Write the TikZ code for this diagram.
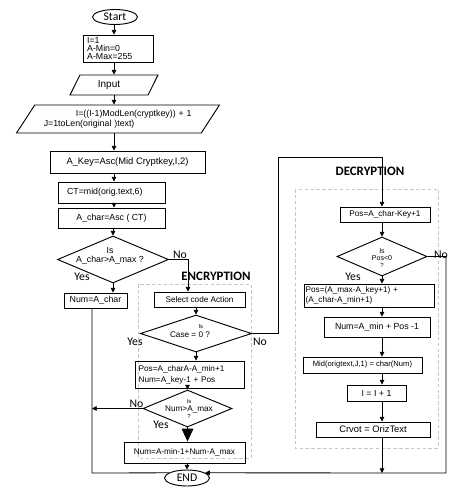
\documentclass[tikz,border=0pt]{standalone}
\usepackage{fontspec}
\setmainfont{Liberation Sans}
\newfontfamily\lblfont{Carlito}
\usetikzlibrary{shapes.geometric}
\usetikzlibrary{arrows.meta}

\begin{document}
\begin{tikzpicture}[x=0.03cm, y=-0.03cm,
    box/.style={draw, line width=0.8pt, inner sep=1pt, font=\fontsize{7.5}{8}\selectfont},
    para/.style={draw, line width=0.8pt, trapezium, trapezium stretches=true, inner sep=1pt, font=\fontsize{7.5}{9}\selectfont},
    choice/.style={draw, line width=0.8pt, diamond, inner sep=0pt},
    ask/.style={inner sep=0pt, align=center, font=\fontsize{7.5}{8}\selectfont},
    term/.style={draw, line width=0.8pt, ellipse, inner sep=0pt, font=\lblfont\fontsize{10}{11}\selectfont},
    lbl/.style={font=\lblfont\fontsize{10}{11}\selectfont},
    head/.style={font=\lblfont\bfseries\fontsize{11}{12}\selectfont},
    region/.style={draw=gray!45, densely dashed, line width=0.6pt},
    flow/.style={-{Triangle[length=4pt,width=4pt]}, line width=0.7pt}]
    \useasboundingbox (0,0) rectangle (474,494);

    \draw[region] (138,284) rectangle (251,458);
    \draw[region] (295,189) rectangle (438,448);

    \node[term, minimum width=1.35cm, minimum height=0.45cm] (start) at (115,17) {Start};
    \node[box, minimum width=2.1cm, minimum height=0.81cm, text width=1.85cm, align=left, inner ysep=0.5pt, font=\fontsize{7.5}{6.6}\selectfont] (init) at (118,48.5) {I=1\\A-Min=0\\A-Max=255};
    \node[para, trapezium left angle=66, trapezium right angle=114, minimum width=2.64cm, minimum height=0.6cm, font=\fontsize{8.5}{9}\selectfont] (input) at (114,85) {Input\hspace*{0.3cm}};
    \node[para, trapezium left angle=52, trapezium right angle=128, minimum width=6.09cm, minimum height=0.84cm, text width=4.45cm, align=left] (loop) at (118,119) {\hspace*{0.96cm}I=((I-1)ModLen(cryptkey)) + 1\\J=1toLen(original )text)};
    \node[box, minimum width=4.65cm, minimum height=0.66cm, font=\fontsize{8}{9}\selectfont] (akey) at (127.5,162) {A\_Key=Asc(Mid Cryptkey,I,2)};
    \node[box, minimum width=3.21cm, minimum height=0.63cm] (ct) at (111.5,192.5) {CT=mid(orig.text,6)\hspace*{0.4cm}};
    \node[box, minimum width=3.21cm, minimum height=0.6cm] (achar) at (111.5,218) {A\_char=Asc ( CT)};
    \node[choice, minimum width=3.33cm, minimum height=1.41cm] (d1) at (113,259.5) {};
    \node[ask] (d1q) at (110,256) {Is\\A\_char>A\_max ?};
    \node[box, minimum width=1.89cm, minimum height=0.45cm] (numchar) at (95.5,300.5) {Num=A\_char};

    \node[head] (enchead) at (216,276) {ENCRYPTION};
    \node[box, minimum width=2.73cm, minimum height=0.45cm, font=\fontsize{7}{8}\selectfont] (select) at (199.5,299.5) {Select code Action};
    \node[choice, minimum width=3.33cm, minimum height=1.11cm] (d2) at (196,333.5) {};
    \node[ask, font=\fontsize{7}{8}\selectfont] (d2q) at (190,331) {Case = \shortstack{{\tiny Is}\\0} ?};
    \node[box, minimum width=3.27cm, minimum height=0.81cm, text width=3.05cm, align=left, font=\fontsize{7}{9.5}\selectfont] (pe) at (189.5,374.5) {Pos=A\_charA-A\_min+1\\ Num=A\_key-1 + Pos};
    \node[choice, minimum width=2.67cm, minimum height=1.11cm] (d3) at (187.5,408.5) {};
    \node[ask, font=\fontsize{7}{6.5}\selectfont] (d3q) at (189,409) {{\tiny Is}\\Num>A\_max\\{\tiny ?}};
    \node[box, minimum width=3.63cm, minimum height=0.63cm, font=\fontsize{7}{8}\selectfont] (numfix) at (184.5,452.5) {Num=A-min-1+Num-A\_max};
    \node[term, minimum width=1.35cm, minimum height=0.48cm] (finish) at (187,478) {END};

    \node[head] (dechead) at (370,171) {DECRYPTION};
    \node[box, minimum width=2.7cm, minimum height=0.45cm, font=\fontsize{7}{8}\selectfont] (pos1) at (385,214.5) {Pos=A\_char-Key+1};
    \node[choice, minimum width=2.7cm, minimum height=1.17cm] (d4) at (382,256.5) {};
    \node[ask, font=\fontsize{6}{6}\selectfont] (d4q) at (382,258) {Is\\Pos<0\\{\tiny ?}};
    \node[box, minimum width=3.9cm, minimum height=0.69cm, text width=3.8cm, align=left, font=\fontsize{7}{8}\selectfont] (pos2) at (369,295.5) {Pos=(A\_max-A\_key+1) +\\(A\_char-A\_min+1)};
    \node[box, minimum width=3.18cm, minimum height=0.6cm] (num2) at (377,327) {Num=A\_min + Pos -1};
    \node[box, minimum width=3.57cm, minimum height=0.48cm, font=\fontsize{6.5}{8}\selectfont] (mid) at (362.5,365) {Mid(origtext,J,1) = char(Num)};
    \node[box, minimum width=1.77cm, minimum height=0.48cm] (inc) at (376.5,393) {I = I + 1};
    \node[box, minimum width=3.42cm, minimum height=0.45cm, font=\fontsize{8}{9}\selectfont] (crvot) at (373,429.5) {Crvot = OrizText};

    \node[lbl] (d1no) at (180,255) {No};
    \node[lbl] (d1yes) at (82,277) {Yes};
    \node[lbl] (d2yes) at (135,342) {Yes};
    \node[lbl] (d2no) at (260,342) {No};
    \node[lbl] (d3no) at (136.5,404) {No};
    \node[lbl] (d3yes) at (161,425) {Yes};
    \node[lbl] (d4no) at (441,255) {No};
    \node[lbl] (d4yes) at (353,277) {Yes};

    \coordinate (lcol) at (114,0);
    \coordinate (nocol) at (188,0);
    \coordinate (loopr) at (278,157);
    \coordinate (dcol) at (382,0);
    \coordinate (lft) at (92,473);
    \coordinate (rgt) at (446,473);

    \draw[flow] (start.south -| lcol) -- (init.north -| lcol);
    \draw[flow] (init.south -| lcol) -- (input.north -| lcol);
    \draw[flow] (input.south -| lcol) -- (loop.north -| lcol);
    \draw[flow] (loop.south -| lcol) -- (akey.north -| lcol);
    \draw[flow] (akey.south -| lcol) -- (ct.north -| lcol);
    \draw[flow] (ct.south -| lcol) -- (achar.north -| lcol);
    \draw[flow] (d1.north |- achar.south) -- (d1.north);
    \draw[flow] (d1.south) -- (d1.south |- numchar.north);
    \draw[flow] (d1.east) -| (select.north -| nocol);
    \draw[flow] (d2.north |- select.south) -- (d2.north);
    \draw[flow] (d2.south) -- (d2.south |- pe.north);
    \draw[flow] (d2.east) -| (loopr) -| (pos1.north -| dcol);
    \draw[flow] (d3.north |- pe.south) -- (d3.north);
    \draw[-{Triangle[length=11pt,width=10pt]}, line width=0.9pt] (d3.south) -- (d3.south |- numfix.north);
    \draw[flow] (d3.west) -- (d3.west -| lft);
    \draw[flow] (finish.north |- numfix.south) -- (finish.north);
    \draw[line width=0.7pt] (numchar.south -| lft) -- (lft) -- (finish.164);

    \draw[flow] (pos1.south -| dcol) -- (d4.north);
    \draw[flow] (d4.south) -- (d4.south |- pos2.north);
    \draw[flow] (pos2.south -| dcol) -- (num2.north -| dcol);
    \draw[flow] (num2.south -| dcol) -- (mid.north -| dcol);
    \draw[flow] (mid.south -| dcol) -- (inc.north -| dcol);
    \draw[flow] (inc.south -| dcol) -- (crvot.north -| dcol);
    \draw[flow] (crvot.south -| dcol) -- (dcol |- rgt);
    \draw[flow] (d4.east) -| (rgt) -- (finish.16);
\end{tikzpicture}
\end{document}
